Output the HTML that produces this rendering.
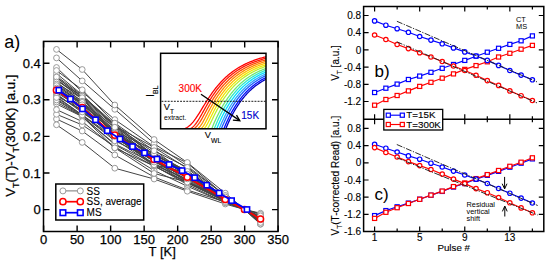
<!DOCTYPE html>
<html><head><meta charset="utf-8"><style>
html,body{margin:0;padding:0;background:#fff;width:550px;height:264px;overflow:hidden}
svg{display:block}
text{font-family:"Liberation Sans", sans-serif}
</style></head><body>
<svg width="550" height="264" viewBox="0 0 550 264">
<rect x="43.5" y="41.4" width="234.5" height="190.1" fill="none" stroke="#000" stroke-width="1.5"/>
<path d="M43.6 231.5v-6M43.6 41.4v6M77.12 231.5v-6M77.12 41.4v6M110.63 231.5v-6M110.63 41.4v6M144.15 231.5v-6M144.15 41.4v6M177.66 231.5v-6M177.66 41.4v6M211.17 231.5v-6M211.17 41.4v6M244.69 231.5v-6M244.69 41.4v6M278.2 231.5v-6M278.2 41.4v6M43.5 209.6h6M278.0 209.6h-6M43.5 173h6M278.0 173h-6M43.5 136.4h6M278.0 136.4h-6M43.5 99.8h6M278.0 99.8h-6M43.5 63.2h6M278.0 63.2h-6" stroke="#000" stroke-width="1.4" fill="none"/>
<text x="43.6" y="243.9" font-size="13" text-anchor="middle" stroke="#000" stroke-width="0.25">0</text>
<text x="77.12" y="243.9" font-size="13" text-anchor="middle" stroke="#000" stroke-width="0.25">50</text>
<text x="110.63" y="243.9" font-size="13" text-anchor="middle" stroke="#000" stroke-width="0.25">100</text>
<text x="144.15" y="243.9" font-size="13" text-anchor="middle" stroke="#000" stroke-width="0.25">150</text>
<text x="177.66" y="243.9" font-size="13" text-anchor="middle" stroke="#000" stroke-width="0.25">200</text>
<text x="211.17" y="243.9" font-size="13" text-anchor="middle" stroke="#000" stroke-width="0.25">250</text>
<text x="244.69" y="243.9" font-size="13" text-anchor="middle" stroke="#000" stroke-width="0.25">300</text>
<text x="278.2" y="243.9" font-size="13" text-anchor="middle" stroke="#000" stroke-width="0.25">350</text>
<text x="40.8" y="214.2" font-size="13" text-anchor="end" stroke="#000" stroke-width="0.25">0</text>
<text x="40.8" y="177.6" font-size="13" text-anchor="end" stroke="#000" stroke-width="0.25">0.1</text>
<text x="40.8" y="141" font-size="13" text-anchor="end" stroke="#000" stroke-width="0.25">0.2</text>
<text x="40.8" y="104.4" font-size="13" text-anchor="end" stroke="#000" stroke-width="0.25">0.3</text>
<text x="40.8" y="67.8" font-size="13" text-anchor="end" stroke="#000" stroke-width="0.25">0.4</text>
<text x="148.6" y="256" font-size="13" stroke="#000" stroke-width="0.25">T [K]</text>
<text transform="translate(15 135.7) rotate(-90)" font-size="13.15" text-anchor="middle" stroke="#000" stroke-width="0.25">V<tspan font-size="9" dy="3.8">T</tspan><tspan dy="-3.8">(T)-V</tspan><tspan font-size="9" dy="3.8">T</tspan><tspan dy="-3.8">(300K) [a.u.]</tspan></text>
<text x="4.2" y="48.1" font-size="18">a)</text>
<path d="M56.5 84.5 82.2 104.02 114.8 132.44 154.1 160.4 187.3 177.27 225.3 199.35 244.5 209.5 260.5 218.88" fill="none" stroke="#444" stroke-width="1"/><circle cx="56.5" cy="84.5" r="2.9" fill="#fff" stroke="#959595" stroke-width="0.95"/><circle cx="82.2" cy="104.02" r="2.9" fill="#fff" stroke="#959595" stroke-width="0.95"/><circle cx="114.8" cy="132.44" r="2.9" fill="#fff" stroke="#959595" stroke-width="0.95"/><circle cx="154.1" cy="160.4" r="2.9" fill="#fff" stroke="#959595" stroke-width="0.95"/><circle cx="187.3" cy="177.27" r="2.9" fill="#fff" stroke="#959595" stroke-width="0.95"/><circle cx="225.3" cy="199.35" r="2.9" fill="#fff" stroke="#959595" stroke-width="0.95"/><circle cx="244.5" cy="209.5" r="2.9" fill="#fff" stroke="#959595" stroke-width="0.95"/><circle cx="260.5" cy="218.88" r="2.9" fill="#fff" stroke="#959595" stroke-width="0.95"/><path d="M56.5 67.5 82.2 91.83 114.8 119.61 154.1 146.73 187.3 163 225.3 196.07 244.5 209.5 260.5 222.14" fill="none" stroke="#444" stroke-width="1"/><circle cx="56.5" cy="67.5" r="2.9" fill="#fff" stroke="#959595" stroke-width="0.95"/><circle cx="82.2" cy="91.83" r="2.9" fill="#fff" stroke="#959595" stroke-width="0.95"/><circle cx="114.8" cy="119.61" r="2.9" fill="#fff" stroke="#959595" stroke-width="0.95"/><circle cx="154.1" cy="146.73" r="2.9" fill="#fff" stroke="#959595" stroke-width="0.95"/><circle cx="187.3" cy="163" r="2.9" fill="#fff" stroke="#959595" stroke-width="0.95"/><circle cx="225.3" cy="196.07" r="2.9" fill="#fff" stroke="#959595" stroke-width="0.95"/><circle cx="244.5" cy="209.5" r="2.9" fill="#fff" stroke="#959595" stroke-width="0.95"/><circle cx="260.5" cy="222.14" r="2.9" fill="#fff" stroke="#959595" stroke-width="0.95"/><path d="M56.5 83.3 82.2 98.66 114.8 134.1 154.1 153.81 187.3 174.43 225.3 201.05 244.5 209.5 260.5 218.85" fill="none" stroke="#444" stroke-width="1"/><circle cx="56.5" cy="83.3" r="2.9" fill="#fff" stroke="#959595" stroke-width="0.95"/><circle cx="82.2" cy="98.66" r="2.9" fill="#fff" stroke="#959595" stroke-width="0.95"/><circle cx="114.8" cy="134.1" r="2.9" fill="#fff" stroke="#959595" stroke-width="0.95"/><circle cx="154.1" cy="153.81" r="2.9" fill="#fff" stroke="#959595" stroke-width="0.95"/><circle cx="187.3" cy="174.43" r="2.9" fill="#fff" stroke="#959595" stroke-width="0.95"/><circle cx="225.3" cy="201.05" r="2.9" fill="#fff" stroke="#959595" stroke-width="0.95"/><circle cx="244.5" cy="209.5" r="2.9" fill="#fff" stroke="#959595" stroke-width="0.95"/><circle cx="260.5" cy="218.85" r="2.9" fill="#fff" stroke="#959595" stroke-width="0.95"/><path d="M56.5 119 82.2 131 114.8 154.97 154.1 177 187.3 190 225.3 201.94 244.5 209.5 260.5 213.85" fill="none" stroke="#444" stroke-width="1"/><circle cx="56.5" cy="119" r="2.9" fill="#fff" stroke="#959595" stroke-width="0.95"/><circle cx="82.2" cy="131" r="2.9" fill="#fff" stroke="#959595" stroke-width="0.95"/><circle cx="114.8" cy="154.97" r="2.9" fill="#fff" stroke="#959595" stroke-width="0.95"/><circle cx="154.1" cy="177" r="2.9" fill="#fff" stroke="#959595" stroke-width="0.95"/><circle cx="187.3" cy="190" r="2.9" fill="#fff" stroke="#959595" stroke-width="0.95"/><circle cx="225.3" cy="201.94" r="2.9" fill="#fff" stroke="#959595" stroke-width="0.95"/><circle cx="244.5" cy="209.5" r="2.9" fill="#fff" stroke="#959595" stroke-width="0.95"/><circle cx="260.5" cy="213.85" r="2.9" fill="#fff" stroke="#959595" stroke-width="0.95"/><path d="M56.5 124.8 82.2 142.4 114.8 168.2 154.1 179 187.3 191.2 225.3 204 244.5 209.5 260.5 213.2" fill="none" stroke="#444" stroke-width="1"/><circle cx="56.5" cy="124.8" r="2.9" fill="#fff" stroke="#959595" stroke-width="0.95"/><circle cx="82.2" cy="142.4" r="2.9" fill="#fff" stroke="#959595" stroke-width="0.95"/><circle cx="114.8" cy="168.2" r="2.9" fill="#fff" stroke="#959595" stroke-width="0.95"/><circle cx="154.1" cy="179" r="2.9" fill="#fff" stroke="#959595" stroke-width="0.95"/><circle cx="187.3" cy="191.2" r="2.9" fill="#fff" stroke="#959595" stroke-width="0.95"/><circle cx="225.3" cy="204" r="2.9" fill="#fff" stroke="#959595" stroke-width="0.95"/><circle cx="244.5" cy="209.5" r="2.9" fill="#fff" stroke="#959595" stroke-width="0.95"/><circle cx="260.5" cy="213.2" r="2.9" fill="#fff" stroke="#959595" stroke-width="0.95"/><path d="M56.5 57.9 82.2 80.9 114.8 109.3 154.1 143.5 187.3 166 225.3 195.5 244.5 209.5 260.5 222.8" fill="none" stroke="#444" stroke-width="1"/><circle cx="56.5" cy="57.9" r="2.9" fill="#fff" stroke="#959595" stroke-width="0.95"/><circle cx="82.2" cy="80.9" r="2.9" fill="#fff" stroke="#959595" stroke-width="0.95"/><circle cx="114.8" cy="109.3" r="2.9" fill="#fff" stroke="#959595" stroke-width="0.95"/><circle cx="154.1" cy="143.5" r="2.9" fill="#fff" stroke="#959595" stroke-width="0.95"/><circle cx="187.3" cy="166" r="2.9" fill="#fff" stroke="#959595" stroke-width="0.95"/><circle cx="225.3" cy="195.5" r="2.9" fill="#fff" stroke="#959595" stroke-width="0.95"/><circle cx="244.5" cy="209.5" r="2.9" fill="#fff" stroke="#959595" stroke-width="0.95"/><circle cx="260.5" cy="222.8" r="2.9" fill="#fff" stroke="#959595" stroke-width="0.95"/><path d="M56.5 95 82.2 110.84 114.8 137.94 154.1 157.57 187.3 181.09 225.3 200.63 244.5 209.5 260.5 218.44" fill="none" stroke="#444" stroke-width="1"/><circle cx="56.5" cy="95" r="2.9" fill="#fff" stroke="#959595" stroke-width="0.95"/><circle cx="82.2" cy="110.84" r="2.9" fill="#fff" stroke="#959595" stroke-width="0.95"/><circle cx="114.8" cy="137.94" r="2.9" fill="#fff" stroke="#959595" stroke-width="0.95"/><circle cx="154.1" cy="157.57" r="2.9" fill="#fff" stroke="#959595" stroke-width="0.95"/><circle cx="187.3" cy="181.09" r="2.9" fill="#fff" stroke="#959595" stroke-width="0.95"/><circle cx="225.3" cy="200.63" r="2.9" fill="#fff" stroke="#959595" stroke-width="0.95"/><circle cx="244.5" cy="209.5" r="2.9" fill="#fff" stroke="#959595" stroke-width="0.95"/><circle cx="260.5" cy="218.44" r="2.9" fill="#fff" stroke="#959595" stroke-width="0.95"/><path d="M56.5 49.4 82.2 69.5 114.8 105 154.1 139.5 187.3 162.5 225.3 193.2 244.5 209.5 260.5 224.3" fill="none" stroke="#444" stroke-width="1"/><circle cx="56.5" cy="49.4" r="2.9" fill="#fff" stroke="#959595" stroke-width="0.95"/><circle cx="82.2" cy="69.5" r="2.9" fill="#fff" stroke="#959595" stroke-width="0.95"/><circle cx="114.8" cy="105" r="2.9" fill="#fff" stroke="#959595" stroke-width="0.95"/><circle cx="154.1" cy="139.5" r="2.9" fill="#fff" stroke="#959595" stroke-width="0.95"/><circle cx="187.3" cy="162.5" r="2.9" fill="#fff" stroke="#959595" stroke-width="0.95"/><circle cx="225.3" cy="193.2" r="2.9" fill="#fff" stroke="#959595" stroke-width="0.95"/><circle cx="244.5" cy="209.5" r="2.9" fill="#fff" stroke="#959595" stroke-width="0.95"/><circle cx="260.5" cy="224.3" r="2.9" fill="#fff" stroke="#959595" stroke-width="0.95"/><path d="M56.5 96 82.2 110.05 114.8 137.13 154.1 163.86 187.3 179.97 225.3 199.78 244.5 209.5 260.5 218.83" fill="none" stroke="#444" stroke-width="1"/><circle cx="56.5" cy="96" r="2.9" fill="#fff" stroke="#959595" stroke-width="0.95"/><circle cx="82.2" cy="110.05" r="2.9" fill="#fff" stroke="#959595" stroke-width="0.95"/><circle cx="114.8" cy="137.13" r="2.9" fill="#fff" stroke="#959595" stroke-width="0.95"/><circle cx="154.1" cy="163.86" r="2.9" fill="#fff" stroke="#959595" stroke-width="0.95"/><circle cx="187.3" cy="179.97" r="2.9" fill="#fff" stroke="#959595" stroke-width="0.95"/><circle cx="225.3" cy="199.78" r="2.9" fill="#fff" stroke="#959595" stroke-width="0.95"/><circle cx="244.5" cy="209.5" r="2.9" fill="#fff" stroke="#959595" stroke-width="0.95"/><circle cx="260.5" cy="218.83" r="2.9" fill="#fff" stroke="#959595" stroke-width="0.95"/><path d="M56.5 76 82.2 95.52 114.8 124.14 154.1 155.43 187.3 171.14 225.3 198.23 244.5 209.5 260.5 223.59" fill="none" stroke="#444" stroke-width="1"/><circle cx="56.5" cy="76" r="2.9" fill="#fff" stroke="#959595" stroke-width="0.95"/><circle cx="82.2" cy="95.52" r="2.9" fill="#fff" stroke="#959595" stroke-width="0.95"/><circle cx="114.8" cy="124.14" r="2.9" fill="#fff" stroke="#959595" stroke-width="0.95"/><circle cx="154.1" cy="155.43" r="2.9" fill="#fff" stroke="#959595" stroke-width="0.95"/><circle cx="187.3" cy="171.14" r="2.9" fill="#fff" stroke="#959595" stroke-width="0.95"/><circle cx="225.3" cy="198.23" r="2.9" fill="#fff" stroke="#959595" stroke-width="0.95"/><circle cx="244.5" cy="209.5" r="2.9" fill="#fff" stroke="#959595" stroke-width="0.95"/><circle cx="260.5" cy="223.59" r="2.9" fill="#fff" stroke="#959595" stroke-width="0.95"/><path d="M56.5 80 82.2 98.65 114.8 128.77 154.1 157.36 187.3 171 225.3 198.22 244.5 209.5 260.5 220.8" fill="none" stroke="#444" stroke-width="1"/><circle cx="56.5" cy="80" r="2.9" fill="#fff" stroke="#959595" stroke-width="0.95"/><circle cx="82.2" cy="98.65" r="2.9" fill="#fff" stroke="#959595" stroke-width="0.95"/><circle cx="114.8" cy="128.77" r="2.9" fill="#fff" stroke="#959595" stroke-width="0.95"/><circle cx="154.1" cy="157.36" r="2.9" fill="#fff" stroke="#959595" stroke-width="0.95"/><circle cx="187.3" cy="171" r="2.9" fill="#fff" stroke="#959595" stroke-width="0.95"/><circle cx="225.3" cy="198.22" r="2.9" fill="#fff" stroke="#959595" stroke-width="0.95"/><circle cx="244.5" cy="209.5" r="2.9" fill="#fff" stroke="#959595" stroke-width="0.95"/><circle cx="260.5" cy="220.8" r="2.9" fill="#fff" stroke="#959595" stroke-width="0.95"/><path d="M56.5 94 82.2 112.47 114.8 135.1 154.1 160.67 187.3 182.03 225.3 201.1 244.5 209.5 260.5 218.33" fill="none" stroke="#444" stroke-width="1"/><circle cx="56.5" cy="94" r="2.9" fill="#fff" stroke="#959595" stroke-width="0.95"/><circle cx="82.2" cy="112.47" r="2.9" fill="#fff" stroke="#959595" stroke-width="0.95"/><circle cx="114.8" cy="135.1" r="2.9" fill="#fff" stroke="#959595" stroke-width="0.95"/><circle cx="154.1" cy="160.67" r="2.9" fill="#fff" stroke="#959595" stroke-width="0.95"/><circle cx="187.3" cy="182.03" r="2.9" fill="#fff" stroke="#959595" stroke-width="0.95"/><circle cx="225.3" cy="201.1" r="2.9" fill="#fff" stroke="#959595" stroke-width="0.95"/><circle cx="244.5" cy="209.5" r="2.9" fill="#fff" stroke="#959595" stroke-width="0.95"/><circle cx="260.5" cy="218.33" r="2.9" fill="#fff" stroke="#959595" stroke-width="0.95"/><path d="M56.5 114.3 82.2 124.89 114.8 146.55 154.1 170.47 187.3 186.24 225.3 202.67 244.5 209.5 260.5 217.46" fill="none" stroke="#444" stroke-width="1"/><circle cx="56.5" cy="114.3" r="2.9" fill="#fff" stroke="#959595" stroke-width="0.95"/><circle cx="82.2" cy="124.89" r="2.9" fill="#fff" stroke="#959595" stroke-width="0.95"/><circle cx="114.8" cy="146.55" r="2.9" fill="#fff" stroke="#959595" stroke-width="0.95"/><circle cx="154.1" cy="170.47" r="2.9" fill="#fff" stroke="#959595" stroke-width="0.95"/><circle cx="187.3" cy="186.24" r="2.9" fill="#fff" stroke="#959595" stroke-width="0.95"/><circle cx="225.3" cy="202.67" r="2.9" fill="#fff" stroke="#959595" stroke-width="0.95"/><circle cx="244.5" cy="209.5" r="2.9" fill="#fff" stroke="#959595" stroke-width="0.95"/><circle cx="260.5" cy="217.46" r="2.9" fill="#fff" stroke="#959595" stroke-width="0.95"/><path d="M56.5 104 82.2 116.59 114.8 148.06 154.1 166.07 187.3 182.86 225.3 201.46 244.5 209.5 260.5 214.43" fill="none" stroke="#444" stroke-width="1"/><circle cx="56.5" cy="104" r="2.9" fill="#fff" stroke="#959595" stroke-width="0.95"/><circle cx="82.2" cy="116.59" r="2.9" fill="#fff" stroke="#959595" stroke-width="0.95"/><circle cx="114.8" cy="148.06" r="2.9" fill="#fff" stroke="#959595" stroke-width="0.95"/><circle cx="154.1" cy="166.07" r="2.9" fill="#fff" stroke="#959595" stroke-width="0.95"/><circle cx="187.3" cy="182.86" r="2.9" fill="#fff" stroke="#959595" stroke-width="0.95"/><circle cx="225.3" cy="201.46" r="2.9" fill="#fff" stroke="#959595" stroke-width="0.95"/><circle cx="244.5" cy="209.5" r="2.9" fill="#fff" stroke="#959595" stroke-width="0.95"/><circle cx="260.5" cy="214.43" r="2.9" fill="#fff" stroke="#959595" stroke-width="0.95"/><path d="M56.5 89 82.2 103.4 114.8 132.73 154.1 161.19 187.3 176.83 225.3 199.26 244.5 209.5 260.5 221.88" fill="none" stroke="#444" stroke-width="1"/><circle cx="56.5" cy="89" r="2.9" fill="#fff" stroke="#959595" stroke-width="0.95"/><circle cx="82.2" cy="103.4" r="2.9" fill="#fff" stroke="#959595" stroke-width="0.95"/><circle cx="114.8" cy="132.73" r="2.9" fill="#fff" stroke="#959595" stroke-width="0.95"/><circle cx="154.1" cy="161.19" r="2.9" fill="#fff" stroke="#959595" stroke-width="0.95"/><circle cx="187.3" cy="176.83" r="2.9" fill="#fff" stroke="#959595" stroke-width="0.95"/><circle cx="225.3" cy="199.26" r="2.9" fill="#fff" stroke="#959595" stroke-width="0.95"/><circle cx="244.5" cy="209.5" r="2.9" fill="#fff" stroke="#959595" stroke-width="0.95"/><circle cx="260.5" cy="221.88" r="2.9" fill="#fff" stroke="#959595" stroke-width="0.95"/><path d="M56.5 79 82.2 98.74 114.8 131.52 154.1 149.54 187.3 175.81 225.3 197.53 244.5 209.5 260.5 218.94" fill="none" stroke="#444" stroke-width="1"/><circle cx="56.5" cy="79" r="2.9" fill="#fff" stroke="#959595" stroke-width="0.95"/><circle cx="82.2" cy="98.74" r="2.9" fill="#fff" stroke="#959595" stroke-width="0.95"/><circle cx="114.8" cy="131.52" r="2.9" fill="#fff" stroke="#959595" stroke-width="0.95"/><circle cx="154.1" cy="149.54" r="2.9" fill="#fff" stroke="#959595" stroke-width="0.95"/><circle cx="187.3" cy="175.81" r="2.9" fill="#fff" stroke="#959595" stroke-width="0.95"/><circle cx="225.3" cy="197.53" r="2.9" fill="#fff" stroke="#959595" stroke-width="0.95"/><circle cx="244.5" cy="209.5" r="2.9" fill="#fff" stroke="#959595" stroke-width="0.95"/><circle cx="260.5" cy="218.94" r="2.9" fill="#fff" stroke="#959595" stroke-width="0.95"/><path d="M56.5 91.5 82.2 105.75 114.8 136.62 154.1 160.67 187.3 181.72 225.3 198.34 244.5 209.5 260.5 218.82" fill="none" stroke="#444" stroke-width="1"/><circle cx="56.5" cy="91.5" r="2.9" fill="#fff" stroke="#959595" stroke-width="0.95"/><circle cx="82.2" cy="105.75" r="2.9" fill="#fff" stroke="#959595" stroke-width="0.95"/><circle cx="114.8" cy="136.62" r="2.9" fill="#fff" stroke="#959595" stroke-width="0.95"/><circle cx="154.1" cy="160.67" r="2.9" fill="#fff" stroke="#959595" stroke-width="0.95"/><circle cx="187.3" cy="181.72" r="2.9" fill="#fff" stroke="#959595" stroke-width="0.95"/><circle cx="225.3" cy="198.34" r="2.9" fill="#fff" stroke="#959595" stroke-width="0.95"/><circle cx="244.5" cy="209.5" r="2.9" fill="#fff" stroke="#959595" stroke-width="0.95"/><circle cx="260.5" cy="218.82" r="2.9" fill="#fff" stroke="#959595" stroke-width="0.95"/><path d="M56.5 73.5 82.2 94.83 114.8 125.74 154.1 147.45 187.3 168.41 225.3 197.86 244.5 209.5 260.5 224" fill="none" stroke="#444" stroke-width="1"/><circle cx="56.5" cy="73.5" r="2.9" fill="#fff" stroke="#959595" stroke-width="0.95"/><circle cx="82.2" cy="94.83" r="2.9" fill="#fff" stroke="#959595" stroke-width="0.95"/><circle cx="114.8" cy="125.74" r="2.9" fill="#fff" stroke="#959595" stroke-width="0.95"/><circle cx="154.1" cy="147.45" r="2.9" fill="#fff" stroke="#959595" stroke-width="0.95"/><circle cx="187.3" cy="168.41" r="2.9" fill="#fff" stroke="#959595" stroke-width="0.95"/><circle cx="225.3" cy="197.86" r="2.9" fill="#fff" stroke="#959595" stroke-width="0.95"/><circle cx="244.5" cy="209.5" r="2.9" fill="#fff" stroke="#959595" stroke-width="0.95"/><circle cx="260.5" cy="224" r="2.9" fill="#fff" stroke="#959595" stroke-width="0.95"/><path d="M56.5 77.6 82.2 96.54 114.8 125.7 154.1 152.64 187.3 171.59 225.3 197.71 244.5 209.5 260.5 221.1" fill="none" stroke="#444" stroke-width="1"/><circle cx="56.5" cy="77.6" r="2.9" fill="#fff" stroke="#959595" stroke-width="0.95"/><circle cx="82.2" cy="96.54" r="2.9" fill="#fff" stroke="#959595" stroke-width="0.95"/><circle cx="114.8" cy="125.7" r="2.9" fill="#fff" stroke="#959595" stroke-width="0.95"/><circle cx="154.1" cy="152.64" r="2.9" fill="#fff" stroke="#959595" stroke-width="0.95"/><circle cx="187.3" cy="171.59" r="2.9" fill="#fff" stroke="#959595" stroke-width="0.95"/><circle cx="225.3" cy="197.71" r="2.9" fill="#fff" stroke="#959595" stroke-width="0.95"/><circle cx="244.5" cy="209.5" r="2.9" fill="#fff" stroke="#959595" stroke-width="0.95"/><circle cx="260.5" cy="221.1" r="2.9" fill="#fff" stroke="#959595" stroke-width="0.95"/><path d="M56.5 91 82.2 107.86 114.8 137.23 154.1 161.35 187.3 177.31 225.3 200.44 244.5 209.5 260.5 219.1" fill="none" stroke="#444" stroke-width="1"/><circle cx="56.5" cy="91" r="2.9" fill="#fff" stroke="#959595" stroke-width="0.95"/><circle cx="82.2" cy="107.86" r="2.9" fill="#fff" stroke="#959595" stroke-width="0.95"/><circle cx="114.8" cy="137.23" r="2.9" fill="#fff" stroke="#959595" stroke-width="0.95"/><circle cx="154.1" cy="161.35" r="2.9" fill="#fff" stroke="#959595" stroke-width="0.95"/><circle cx="187.3" cy="177.31" r="2.9" fill="#fff" stroke="#959595" stroke-width="0.95"/><circle cx="225.3" cy="200.44" r="2.9" fill="#fff" stroke="#959595" stroke-width="0.95"/><circle cx="244.5" cy="209.5" r="2.9" fill="#fff" stroke="#959595" stroke-width="0.95"/><circle cx="260.5" cy="219.1" r="2.9" fill="#fff" stroke="#959595" stroke-width="0.95"/><path d="M56.5 80.5 82.2 96.05 114.8 125.77 154.1 156.3 187.3 175.05 225.3 199.34 244.5 209.5 260.5 221.35" fill="none" stroke="#444" stroke-width="1"/><circle cx="56.5" cy="80.5" r="2.9" fill="#fff" stroke="#959595" stroke-width="0.95"/><circle cx="82.2" cy="96.05" r="2.9" fill="#fff" stroke="#959595" stroke-width="0.95"/><circle cx="114.8" cy="125.77" r="2.9" fill="#fff" stroke="#959595" stroke-width="0.95"/><circle cx="154.1" cy="156.3" r="2.9" fill="#fff" stroke="#959595" stroke-width="0.95"/><circle cx="187.3" cy="175.05" r="2.9" fill="#fff" stroke="#959595" stroke-width="0.95"/><circle cx="225.3" cy="199.34" r="2.9" fill="#fff" stroke="#959595" stroke-width="0.95"/><circle cx="244.5" cy="209.5" r="2.9" fill="#fff" stroke="#959595" stroke-width="0.95"/><circle cx="260.5" cy="221.35" r="2.9" fill="#fff" stroke="#959595" stroke-width="0.95"/><path d="M56.5 102 82.2 116.48 114.8 144.73 154.1 166.21 187.3 182.08 225.3 199.91 244.5 209.5 260.5 217.33" fill="none" stroke="#444" stroke-width="1"/><circle cx="56.5" cy="102" r="2.9" fill="#fff" stroke="#959595" stroke-width="0.95"/><circle cx="82.2" cy="116.48" r="2.9" fill="#fff" stroke="#959595" stroke-width="0.95"/><circle cx="114.8" cy="144.73" r="2.9" fill="#fff" stroke="#959595" stroke-width="0.95"/><circle cx="154.1" cy="166.21" r="2.9" fill="#fff" stroke="#959595" stroke-width="0.95"/><circle cx="187.3" cy="182.08" r="2.9" fill="#fff" stroke="#959595" stroke-width="0.95"/><circle cx="225.3" cy="199.91" r="2.9" fill="#fff" stroke="#959595" stroke-width="0.95"/><circle cx="244.5" cy="209.5" r="2.9" fill="#fff" stroke="#959595" stroke-width="0.95"/><circle cx="260.5" cy="217.33" r="2.9" fill="#fff" stroke="#959595" stroke-width="0.95"/><path d="M56.5 77 82.2 97.7 114.8 126.76 154.1 154.91 187.3 170.78 225.3 197.29 244.5 209.5 260.5 220.24" fill="none" stroke="#444" stroke-width="1"/><circle cx="56.5" cy="77" r="2.9" fill="#fff" stroke="#959595" stroke-width="0.95"/><circle cx="82.2" cy="97.7" r="2.9" fill="#fff" stroke="#959595" stroke-width="0.95"/><circle cx="114.8" cy="126.76" r="2.9" fill="#fff" stroke="#959595" stroke-width="0.95"/><circle cx="154.1" cy="154.91" r="2.9" fill="#fff" stroke="#959595" stroke-width="0.95"/><circle cx="187.3" cy="170.78" r="2.9" fill="#fff" stroke="#959595" stroke-width="0.95"/><circle cx="225.3" cy="197.29" r="2.9" fill="#fff" stroke="#959595" stroke-width="0.95"/><circle cx="244.5" cy="209.5" r="2.9" fill="#fff" stroke="#959595" stroke-width="0.95"/><circle cx="260.5" cy="220.24" r="2.9" fill="#fff" stroke="#959595" stroke-width="0.95"/><path d="M56.5 96.5 82.2 114.95 114.8 137.56 154.1 161.18 187.3 177.67 225.3 199.06 244.5 209.5 260.5 219.19" fill="none" stroke="#444" stroke-width="1"/><circle cx="56.5" cy="96.5" r="2.9" fill="#fff" stroke="#959595" stroke-width="0.95"/><circle cx="82.2" cy="114.95" r="2.9" fill="#fff" stroke="#959595" stroke-width="0.95"/><circle cx="114.8" cy="137.56" r="2.9" fill="#fff" stroke="#959595" stroke-width="0.95"/><circle cx="154.1" cy="161.18" r="2.9" fill="#fff" stroke="#959595" stroke-width="0.95"/><circle cx="187.3" cy="177.67" r="2.9" fill="#fff" stroke="#959595" stroke-width="0.95"/><circle cx="225.3" cy="199.06" r="2.9" fill="#fff" stroke="#959595" stroke-width="0.95"/><circle cx="244.5" cy="209.5" r="2.9" fill="#fff" stroke="#959595" stroke-width="0.95"/><circle cx="260.5" cy="219.19" r="2.9" fill="#fff" stroke="#959595" stroke-width="0.95"/><path d="M56.5 82 82.2 101.49 114.8 130.16 154.1 158.76 187.3 172.24 225.3 198.09 244.5 209.5 260.5 220.88" fill="none" stroke="#444" stroke-width="1"/><circle cx="56.5" cy="82" r="2.9" fill="#fff" stroke="#959595" stroke-width="0.95"/><circle cx="82.2" cy="101.49" r="2.9" fill="#fff" stroke="#959595" stroke-width="0.95"/><circle cx="114.8" cy="130.16" r="2.9" fill="#fff" stroke="#959595" stroke-width="0.95"/><circle cx="154.1" cy="158.76" r="2.9" fill="#fff" stroke="#959595" stroke-width="0.95"/><circle cx="187.3" cy="172.24" r="2.9" fill="#fff" stroke="#959595" stroke-width="0.95"/><circle cx="225.3" cy="198.09" r="2.9" fill="#fff" stroke="#959595" stroke-width="0.95"/><circle cx="244.5" cy="209.5" r="2.9" fill="#fff" stroke="#959595" stroke-width="0.95"/><circle cx="260.5" cy="220.88" r="2.9" fill="#fff" stroke="#959595" stroke-width="0.95"/><path d="M56.5 99 82.2 115.45 114.8 139.14 154.1 165.76 187.3 184.49 225.3 202.68 244.5 209.5 260.5 220.01" fill="none" stroke="#444" stroke-width="1"/><circle cx="56.5" cy="99" r="2.9" fill="#fff" stroke="#959595" stroke-width="0.95"/><circle cx="82.2" cy="115.45" r="2.9" fill="#fff" stroke="#959595" stroke-width="0.95"/><circle cx="114.8" cy="139.14" r="2.9" fill="#fff" stroke="#959595" stroke-width="0.95"/><circle cx="154.1" cy="165.76" r="2.9" fill="#fff" stroke="#959595" stroke-width="0.95"/><circle cx="187.3" cy="184.49" r="2.9" fill="#fff" stroke="#959595" stroke-width="0.95"/><circle cx="225.3" cy="202.68" r="2.9" fill="#fff" stroke="#959595" stroke-width="0.95"/><circle cx="244.5" cy="209.5" r="2.9" fill="#fff" stroke="#959595" stroke-width="0.95"/><circle cx="260.5" cy="220.01" r="2.9" fill="#fff" stroke="#959595" stroke-width="0.95"/><path d="M56.5 88.5 82.2 107.97 114.8 130.8 154.1 161.77 187.3 177.51 225.3 200.29 244.5 209.5 260.5 219.38" fill="none" stroke="#444" stroke-width="1"/><circle cx="56.5" cy="88.5" r="2.9" fill="#fff" stroke="#959595" stroke-width="0.95"/><circle cx="82.2" cy="107.97" r="2.9" fill="#fff" stroke="#959595" stroke-width="0.95"/><circle cx="114.8" cy="130.8" r="2.9" fill="#fff" stroke="#959595" stroke-width="0.95"/><circle cx="154.1" cy="161.77" r="2.9" fill="#fff" stroke="#959595" stroke-width="0.95"/><circle cx="187.3" cy="177.51" r="2.9" fill="#fff" stroke="#959595" stroke-width="0.95"/><circle cx="225.3" cy="200.29" r="2.9" fill="#fff" stroke="#959595" stroke-width="0.95"/><circle cx="244.5" cy="209.5" r="2.9" fill="#fff" stroke="#959595" stroke-width="0.95"/><circle cx="260.5" cy="219.38" r="2.9" fill="#fff" stroke="#959595" stroke-width="0.95"/><path d="M56.5 100 82.2 116.2 114.8 144 154.1 163.37 187.3 182.94 225.3 200.52 244.5 209.5 260.5 216.71" fill="none" stroke="#444" stroke-width="1"/><circle cx="56.5" cy="100" r="2.9" fill="#fff" stroke="#959595" stroke-width="0.95"/><circle cx="82.2" cy="116.2" r="2.9" fill="#fff" stroke="#959595" stroke-width="0.95"/><circle cx="114.8" cy="144" r="2.9" fill="#fff" stroke="#959595" stroke-width="0.95"/><circle cx="154.1" cy="163.37" r="2.9" fill="#fff" stroke="#959595" stroke-width="0.95"/><circle cx="187.3" cy="182.94" r="2.9" fill="#fff" stroke="#959595" stroke-width="0.95"/><circle cx="225.3" cy="200.52" r="2.9" fill="#fff" stroke="#959595" stroke-width="0.95"/><circle cx="244.5" cy="209.5" r="2.9" fill="#fff" stroke="#959595" stroke-width="0.95"/><circle cx="260.5" cy="216.71" r="2.9" fill="#fff" stroke="#959595" stroke-width="0.95"/><path d="M56.5 97.5 82.2 114.95 114.8 140.85 154.1 159.89 187.3 177.67 225.3 200.52 244.5 209.5 260.5 217.22" fill="none" stroke="#444" stroke-width="1"/><circle cx="56.5" cy="97.5" r="2.9" fill="#fff" stroke="#959595" stroke-width="0.95"/><circle cx="82.2" cy="114.95" r="2.9" fill="#fff" stroke="#959595" stroke-width="0.95"/><circle cx="114.8" cy="140.85" r="2.9" fill="#fff" stroke="#959595" stroke-width="0.95"/><circle cx="154.1" cy="159.89" r="2.9" fill="#fff" stroke="#959595" stroke-width="0.95"/><circle cx="187.3" cy="177.67" r="2.9" fill="#fff" stroke="#959595" stroke-width="0.95"/><circle cx="225.3" cy="200.52" r="2.9" fill="#fff" stroke="#959595" stroke-width="0.95"/><circle cx="244.5" cy="209.5" r="2.9" fill="#fff" stroke="#959595" stroke-width="0.95"/><circle cx="260.5" cy="217.22" r="2.9" fill="#fff" stroke="#959595" stroke-width="0.95"/><path d="M56.5 87 82.2 102.85 114.8 131.33 154.1 156.56 187.3 177.81 225.3 197.98 244.5 209.5 260.5 219.31" fill="none" stroke="#444" stroke-width="1"/><circle cx="56.5" cy="87" r="2.9" fill="#fff" stroke="#959595" stroke-width="0.95"/><circle cx="82.2" cy="102.85" r="2.9" fill="#fff" stroke="#959595" stroke-width="0.95"/><circle cx="114.8" cy="131.33" r="2.9" fill="#fff" stroke="#959595" stroke-width="0.95"/><circle cx="154.1" cy="156.56" r="2.9" fill="#fff" stroke="#959595" stroke-width="0.95"/><circle cx="187.3" cy="177.81" r="2.9" fill="#fff" stroke="#959595" stroke-width="0.95"/><circle cx="225.3" cy="197.98" r="2.9" fill="#fff" stroke="#959595" stroke-width="0.95"/><circle cx="244.5" cy="209.5" r="2.9" fill="#fff" stroke="#959595" stroke-width="0.95"/><circle cx="260.5" cy="219.31" r="2.9" fill="#fff" stroke="#959595" stroke-width="0.95"/><path d="M56.5 84 82.2 101.35 114.8 135.21 154.1 153.36 187.3 173.9 225.3 199.18 244.5 209.5 260.5 220.67" fill="none" stroke="#444" stroke-width="1"/><circle cx="56.5" cy="84" r="2.9" fill="#fff" stroke="#959595" stroke-width="0.95"/><circle cx="82.2" cy="101.35" r="2.9" fill="#fff" stroke="#959595" stroke-width="0.95"/><circle cx="114.8" cy="135.21" r="2.9" fill="#fff" stroke="#959595" stroke-width="0.95"/><circle cx="154.1" cy="153.36" r="2.9" fill="#fff" stroke="#959595" stroke-width="0.95"/><circle cx="187.3" cy="173.9" r="2.9" fill="#fff" stroke="#959595" stroke-width="0.95"/><circle cx="225.3" cy="199.18" r="2.9" fill="#fff" stroke="#959595" stroke-width="0.95"/><circle cx="244.5" cy="209.5" r="2.9" fill="#fff" stroke="#959595" stroke-width="0.95"/><circle cx="260.5" cy="220.67" r="2.9" fill="#fff" stroke="#959595" stroke-width="0.95"/><path d="M56.5 109.6 82.2 121.51 114.8 147.81 154.1 173.44 187.3 182.1 225.3 201.58 244.5 209.5 260.5 215.84" fill="none" stroke="#444" stroke-width="1"/><circle cx="56.5" cy="109.6" r="2.9" fill="#fff" stroke="#959595" stroke-width="0.95"/><circle cx="82.2" cy="121.51" r="2.9" fill="#fff" stroke="#959595" stroke-width="0.95"/><circle cx="114.8" cy="147.81" r="2.9" fill="#fff" stroke="#959595" stroke-width="0.95"/><circle cx="154.1" cy="173.44" r="2.9" fill="#fff" stroke="#959595" stroke-width="0.95"/><circle cx="187.3" cy="182.1" r="2.9" fill="#fff" stroke="#959595" stroke-width="0.95"/><circle cx="225.3" cy="201.58" r="2.9" fill="#fff" stroke="#959595" stroke-width="0.95"/><circle cx="244.5" cy="209.5" r="2.9" fill="#fff" stroke="#959595" stroke-width="0.95"/><circle cx="260.5" cy="215.84" r="2.9" fill="#fff" stroke="#959595" stroke-width="0.95"/><path d="M56.5 92.5 82.2 108.81 114.8 136.36 154.1 165.3 187.3 178.9 225.3 199.29 244.5 209.5 260.5 218.86" fill="none" stroke="#444" stroke-width="1"/><circle cx="56.5" cy="92.5" r="2.9" fill="#fff" stroke="#959595" stroke-width="0.95"/><circle cx="82.2" cy="108.81" r="2.9" fill="#fff" stroke="#959595" stroke-width="0.95"/><circle cx="114.8" cy="136.36" r="2.9" fill="#fff" stroke="#959595" stroke-width="0.95"/><circle cx="154.1" cy="165.3" r="2.9" fill="#fff" stroke="#959595" stroke-width="0.95"/><circle cx="187.3" cy="178.9" r="2.9" fill="#fff" stroke="#959595" stroke-width="0.95"/><circle cx="225.3" cy="199.29" r="2.9" fill="#fff" stroke="#959595" stroke-width="0.95"/><circle cx="244.5" cy="209.5" r="2.9" fill="#fff" stroke="#959595" stroke-width="0.95"/><circle cx="260.5" cy="218.86" r="2.9" fill="#fff" stroke="#959595" stroke-width="0.95"/><path d="M56.5 70.5 82.2 89.82 114.8 123.14 154.1 150.77 187.3 167.39 225.3 195.46 244.5 209.5 260.5 221.42" fill="none" stroke="#444" stroke-width="1"/><circle cx="56.5" cy="70.5" r="2.9" fill="#fff" stroke="#959595" stroke-width="0.95"/><circle cx="82.2" cy="89.82" r="2.9" fill="#fff" stroke="#959595" stroke-width="0.95"/><circle cx="114.8" cy="123.14" r="2.9" fill="#fff" stroke="#959595" stroke-width="0.95"/><circle cx="154.1" cy="150.77" r="2.9" fill="#fff" stroke="#959595" stroke-width="0.95"/><circle cx="187.3" cy="167.39" r="2.9" fill="#fff" stroke="#959595" stroke-width="0.95"/><circle cx="225.3" cy="195.46" r="2.9" fill="#fff" stroke="#959595" stroke-width="0.95"/><circle cx="244.5" cy="209.5" r="2.9" fill="#fff" stroke="#959595" stroke-width="0.95"/><circle cx="260.5" cy="221.42" r="2.9" fill="#fff" stroke="#959595" stroke-width="0.95"/><path d="M56.5 90 82.2 111.93 114.8 134.97 154.1 164.81 187.3 172.74 225.3 197.01 244.5 209.5 260.5 220.33" fill="none" stroke="#444" stroke-width="1"/><circle cx="56.5" cy="90" r="2.9" fill="#fff" stroke="#959595" stroke-width="0.95"/><circle cx="82.2" cy="111.93" r="2.9" fill="#fff" stroke="#959595" stroke-width="0.95"/><circle cx="114.8" cy="134.97" r="2.9" fill="#fff" stroke="#959595" stroke-width="0.95"/><circle cx="154.1" cy="164.81" r="2.9" fill="#fff" stroke="#959595" stroke-width="0.95"/><circle cx="187.3" cy="172.74" r="2.9" fill="#fff" stroke="#959595" stroke-width="0.95"/><circle cx="225.3" cy="197.01" r="2.9" fill="#fff" stroke="#959595" stroke-width="0.95"/><circle cx="244.5" cy="209.5" r="2.9" fill="#fff" stroke="#959595" stroke-width="0.95"/><circle cx="260.5" cy="220.33" r="2.9" fill="#fff" stroke="#959595" stroke-width="0.95"/><path d="M56.5 85.6 82.2 102.35 114.8 127.23 154.1 159.11 187.3 171.45 225.3 199.86 244.5 209.5 260.5 222.5" fill="none" stroke="#444" stroke-width="1"/><circle cx="56.5" cy="85.6" r="2.9" fill="#fff" stroke="#959595" stroke-width="0.95"/><circle cx="82.2" cy="102.35" r="2.9" fill="#fff" stroke="#959595" stroke-width="0.95"/><circle cx="114.8" cy="127.23" r="2.9" fill="#fff" stroke="#959595" stroke-width="0.95"/><circle cx="154.1" cy="159.11" r="2.9" fill="#fff" stroke="#959595" stroke-width="0.95"/><circle cx="187.3" cy="171.45" r="2.9" fill="#fff" stroke="#959595" stroke-width="0.95"/><circle cx="225.3" cy="199.86" r="2.9" fill="#fff" stroke="#959595" stroke-width="0.95"/><circle cx="244.5" cy="209.5" r="2.9" fill="#fff" stroke="#959595" stroke-width="0.95"/><circle cx="260.5" cy="222.5" r="2.9" fill="#fff" stroke="#959595" stroke-width="0.95"/><path d="M56.5 88 82.2 104.78 114.8 133.11 154.1 162.01 187.3 174.24 225.3 199.25 244.5 209.5 260.5 219.76" fill="none" stroke="#444" stroke-width="1"/><circle cx="56.5" cy="88" r="2.9" fill="#fff" stroke="#959595" stroke-width="0.95"/><circle cx="82.2" cy="104.78" r="2.9" fill="#fff" stroke="#959595" stroke-width="0.95"/><circle cx="114.8" cy="133.11" r="2.9" fill="#fff" stroke="#959595" stroke-width="0.95"/><circle cx="154.1" cy="162.01" r="2.9" fill="#fff" stroke="#959595" stroke-width="0.95"/><circle cx="187.3" cy="174.24" r="2.9" fill="#fff" stroke="#959595" stroke-width="0.95"/><circle cx="225.3" cy="199.25" r="2.9" fill="#fff" stroke="#959595" stroke-width="0.95"/><circle cx="244.5" cy="209.5" r="2.9" fill="#fff" stroke="#959595" stroke-width="0.95"/><circle cx="260.5" cy="219.76" r="2.9" fill="#fff" stroke="#959595" stroke-width="0.95"/>
<path d="M56.5 90.2 82.2 107.7 114.8 135.2 154.1 159.5 187.3 177.2 225.3 199.5 244.5 209.5 260.5 219" fill="none" stroke="#f00" stroke-width="1.7"/>
<circle cx="56.5" cy="90.2" r="3.1" fill="#fff" stroke="#f00" stroke-width="1.5"/>
<circle cx="82.2" cy="107.7" r="3.1" fill="#fff" stroke="#f00" stroke-width="1.5"/>
<circle cx="114.8" cy="135.2" r="3.1" fill="#fff" stroke="#f00" stroke-width="1.5"/>
<circle cx="154.1" cy="159.5" r="3.1" fill="#fff" stroke="#f00" stroke-width="1.5"/>
<circle cx="187.3" cy="177.2" r="3.1" fill="#fff" stroke="#f00" stroke-width="1.5"/>
<circle cx="225.3" cy="199.5" r="3.1" fill="#fff" stroke="#f00" stroke-width="1.5"/>
<circle cx="244.5" cy="209.5" r="3.1" fill="#fff" stroke="#f00" stroke-width="1.5"/>
<circle cx="260.5" cy="219" r="3.1" fill="#fff" stroke="#f00" stroke-width="1.5"/>
<path d="M58.8 90.2 70.4 99 82.5 108.9 95.5 119.8 107.3 130.7 120 139 132.5 146.6 144.5 152.9 157 159.1 169.1 164.5 182.1 170.6 194.7 177.7 206.8 185.2 219.1 193 231.6 200.6 247 209.5" fill="none" stroke="#00f" stroke-width="1.7"/>
<rect x="56.2" y="87.6" width="5.2" height="5.2" fill="#fff" stroke="#00f" stroke-width="1.6"/>
<rect x="67.8" y="96.4" width="5.2" height="5.2" fill="#fff" stroke="#00f" stroke-width="1.6"/>
<rect x="79.9" y="106.3" width="5.2" height="5.2" fill="#fff" stroke="#00f" stroke-width="1.6"/>
<rect x="92.9" y="117.2" width="5.2" height="5.2" fill="#fff" stroke="#00f" stroke-width="1.6"/>
<rect x="104.7" y="128.1" width="5.2" height="5.2" fill="#fff" stroke="#00f" stroke-width="1.6"/>
<rect x="117.4" y="136.4" width="5.2" height="5.2" fill="#fff" stroke="#00f" stroke-width="1.6"/>
<rect x="129.9" y="144" width="5.2" height="5.2" fill="#fff" stroke="#00f" stroke-width="1.6"/>
<rect x="141.9" y="150.3" width="5.2" height="5.2" fill="#fff" stroke="#00f" stroke-width="1.6"/>
<rect x="154.4" y="156.5" width="5.2" height="5.2" fill="#fff" stroke="#00f" stroke-width="1.6"/>
<rect x="166.5" y="161.9" width="5.2" height="5.2" fill="#fff" stroke="#00f" stroke-width="1.6"/>
<rect x="179.5" y="168" width="5.2" height="5.2" fill="#fff" stroke="#00f" stroke-width="1.6"/>
<rect x="192.1" y="175.1" width="5.2" height="5.2" fill="#fff" stroke="#00f" stroke-width="1.6"/>
<rect x="204.2" y="182.6" width="5.2" height="5.2" fill="#fff" stroke="#00f" stroke-width="1.6"/>
<rect x="216.5" y="190.4" width="5.2" height="5.2" fill="#fff" stroke="#00f" stroke-width="1.6"/>
<rect x="229" y="198" width="5.2" height="5.2" fill="#fff" stroke="#00f" stroke-width="1.6"/>
<rect x="244.4" y="206.9" width="5.2" height="5.2" fill="#fff" stroke="#00f" stroke-width="1.6"/>
<rect x="55.8" y="184" width="87.9" height="36" fill="#fff" stroke="#000" stroke-width="1.5"/>
<path d="M62.9 190.9H80.3" stroke="#666" stroke-width="0.9"/><circle cx="62.9" cy="190.9" r="3" fill="#fff" stroke="#959595" stroke-width="0.95"/><circle cx="80.3" cy="190.9" r="3" fill="#fff" stroke="#959595" stroke-width="0.95"/>
<path d="M62.9 201.7H80.3" stroke="#f00" stroke-width="1.7"/><circle cx="62.9" cy="201.7" r="3.1" fill="#fff" stroke="#f00" stroke-width="1.5"/><circle cx="80.3" cy="201.7" r="3.1" fill="#fff" stroke="#f00" stroke-width="1.5"/>
<path d="M62.9 212.7H80.3" stroke="#00f" stroke-width="1.7"/><rect x="60.1" y="209.9" width="5.6" height="5.6" fill="#fff" stroke="#00f" stroke-width="1.6"/><rect x="77.5" y="209.9" width="5.6" height="5.6" fill="#fff" stroke="#00f" stroke-width="1.6"/>
<text x="86.6" y="194.5" font-size="10" stroke="#000" stroke-width="0.12">SS</text>
<text x="86.6" y="205.3" font-size="10" stroke="#000" stroke-width="0.12">SS, average</text>
<text x="86.6" y="216.3" font-size="10" stroke="#000" stroke-width="0.12">MS</text>
<rect x="160.6" y="53.3" width="105.4" height="75.5" fill="#fff" stroke="none"/>
<clipPath id="ic"><rect x="160.6" y="53.3" width="105.4" height="75.5"/></clipPath>
<g clip-path="url(#ic)"><path d="M175 131 175.75 130.93 176.5 130.84 177.25 130.75 178 130.64 178.75 130.52 179.5 130.37 180.25 130.21 181 130.03 181.75 129.83 182.5 129.6 183.25 129.34 184 129.05 184.75 128.72 185.5 128.35 186.25 127.94 187 127.49 187.75 127 188.5 126.45 189.25 125.85 190 125.2 190.75 124.49 191.5 123.73 192.25 122.92 193 122.05 193.75 121.13 194.5 120.16 195.25 119.15 196 118.09 196.75 116.99 197.5 115.87 198.25 114.71 199 113.53 199.75 112.33 200.5 111.12 201.25 109.89 202 108.66 202.75 107.43 203.5 106.2 204.25 104.98 205 103.76 205.75 102.55 206.5 101.36 207.25 100.18 208 99.02 208.75 97.87 209.5 96.74 210.25 95.63 211 94.55 211.75 93.48 212.5 92.43 213.25 91.41 214 90.4 214.75 89.42 215.5 88.46 216.25 87.52 217 86.6 217.75 85.7 218.5 84.82 219.25 83.96 220 83.12 220.75 82.3 221.5 81.5 222.25 80.72 223 79.96 223.75 79.21 224.5 78.49 225.25 77.78 226 77.09 226.75 76.41 227.5 75.75 228.25 75.11 229 74.48 229.75 73.87 230.5 73.27 231.25 72.68 232 72.11 232.75 71.56 233.5 71.02 234.25 70.49 235 69.97 235.75 69.47 236.5 68.98 237.25 68.5 238 68.03 238.75 67.57 239.5 67.13 240.25 66.69 241 66.27 241.75 65.86 242.5 65.45 243.25 65.06 244 64.68 244.75 64.3 245.5 63.94 246.25 63.58 247 63.23 247.75 62.89 248.5 62.56 249.25 62.24 250 61.92 250.75 61.61 251.5 61.31 252.25 61.02 253 60.74 253.75 60.46 254.5 60.19 255.25 59.92 256 59.66 256.75 59.41 257.5 59.16 258.25 58.92 259 58.69 259.75 58.46 260.5 58.24 261.25 58.02 262 57.81 262.75 57.6 263.5 57.4 264.25 57.2 265 57.01 265.75 56.82 266.5 56.63 267.25 56.46" fill="none" stroke="#ff0000" stroke-width="1.3"/><path d="M184 130.92 184.75 130.8 185.5 130.66 186.25 130.49 187 130.29 187.75 130.06 188.5 129.78 189.25 129.45 190 129.07 190.75 128.63 191.5 128.13 192.25 127.55 193 126.89 193.75 126.16 194.5 125.35 195.25 124.46 196 123.5 196.75 122.46 197.5 121.35 198.25 120.19 199 118.97 199.75 117.71 200.5 116.42 201.25 115.1 202 113.76 202.75 112.42 203.5 111.07 204.25 109.72 205 108.38 205.75 107.05 206.5 105.74 207.25 104.44 208 103.17 208.75 101.92 209.5 100.69 210.25 99.48 211 98.3 211.75 97.14 212.5 96.01 213.25 94.9 214 93.82 214.75 92.76 215.5 91.72 216.25 90.72 217 89.73 217.75 88.77 218.5 87.83 219.25 86.91 220 86.02 220.75 85.15 221.5 84.3 222.25 83.47 223 82.66 223.75 81.87 224.5 81.1 225.25 80.35 226 79.61 226.75 78.9 227.5 78.2 228.25 77.52 229 76.86 229.75 76.21 230.5 75.58 231.25 74.96 232 74.36 232.75 73.77 233.5 73.2 234.25 72.65 235 72.1 235.75 71.57 236.5 71.05 237.25 70.55 238 70.06 238.75 69.58 239.5 69.11 240.25 68.65 241 68.21 241.75 67.77 242.5 67.35 243.25 66.94 244 66.53 244.75 66.14 245.5 65.76 246.25 65.38 247 65.02 247.75 64.66 248.5 64.31 249.25 63.98 250 63.65 250.75 63.32 251.5 63.01 252.25 62.7 253 62.4 253.75 62.11 254.5 61.83 255.25 61.55 256 61.28 256.75 61.02 257.5 60.76 258.25 60.51 259 60.26 259.75 60.03 260.5 59.79 261.25 59.57 262 59.34 262.75 59.13 263.5 58.92 264.25 58.71 265 58.51 265.75 58.32 266.5 58.13 267.25 57.94" fill="none" stroke="#ff1800" stroke-width="1.3"/><path d="M187.75 130.98 188.5 130.86 189.25 130.71 190 130.53 190.75 130.31 191.5 130.04 192.25 129.72 193 129.35 193.75 128.9 194.5 128.38 195.25 127.78 196 127.09 196.75 126.31 197.5 125.44 198.25 124.48 199 123.44 199.75 122.32 200.5 121.13 201.25 119.88 202 118.58 202.75 117.25 203.5 115.9 204.25 114.52 205 113.14 205.75 111.76 206.5 110.38 207.25 109.01 208 107.66 208.75 106.33 209.5 105.02 210.25 103.73 211 102.47 211.75 101.23 212.5 100.02 213.25 98.83 214 97.67 214.75 96.54 215.5 95.43 216.25 94.35 217 93.3 217.75 92.27 218.5 91.27 219.25 90.29 220 89.33 220.75 88.4 221.5 87.49 222.25 86.6 223 85.74 223.75 84.89 224.5 84.07 225.25 83.27 226 82.48 226.75 81.72 227.5 80.98 228.25 80.25 229 79.54 229.75 78.85 230.5 78.18 231.25 77.53 232 76.89 232.75 76.26 233.5 75.65 234.25 75.06 235 74.48 235.75 73.92 236.5 73.37 237.25 72.83 238 72.31 238.75 71.8 239.5 71.3 240.25 70.82 241 70.35 241.75 69.89 242.5 69.44 243.25 69 244 68.57 244.75 68.15 245.5 67.75 246.25 67.35 247 66.97 247.75 66.59 248.5 66.22 249.25 65.86 250 65.51 250.75 65.17 251.5 64.84 252.25 64.52 253 64.2 253.75 63.9 254.5 63.6 255.25 63.3 256 63.02 256.75 62.74 257.5 62.47 258.25 62.2 259 61.95 259.75 61.69 260.5 61.45 261.25 61.21 262 60.98 262.75 60.75 263.5 60.53 264.25 60.31 265 60.1 265.75 59.9 266.5 59.7 267.25 59.5" fill="none" stroke="#ff5000" stroke-width="1.3"/><path d="M193 130.88 193.75 130.71 194.5 130.49 195.25 130.21 196 129.86 196.75 129.43 197.5 128.92 198.25 128.3 199 127.57 199.75 126.73 200.5 125.78 201.25 124.72 202 123.56 202.75 122.32 203.5 121.01 204.25 119.65 205 118.25 205.75 116.82 206.5 115.38 207.25 113.94 208 112.5 208.75 111.08 209.5 109.68 210.25 108.3 211 106.94 211.75 105.61 212.5 104.3 213.25 103.03 214 101.78 214.75 100.56 215.5 99.37 216.25 98.21 217 97.08 217.75 95.97 218.5 94.89 219.25 93.84 220 92.82 220.75 91.82 221.5 90.84 222.25 89.89 223 88.97 223.75 88.07 224.5 87.19 225.25 86.33 226 85.49 226.75 84.68 227.5 83.88 228.25 83.11 229 82.35 229.75 81.61 230.5 80.9 231.25 80.2 232 79.51 232.75 78.85 233.5 78.2 234.25 77.57 235 76.95 235.75 76.35 236.5 75.77 237.25 75.2 238 74.64 238.75 74.1 239.5 73.57 240.25 73.06 241 72.55 241.75 72.06 242.5 71.59 243.25 71.12 244 70.67 244.75 70.23 245.5 69.8 246.25 69.38 247 68.97 247.75 68.57 248.5 68.18 249.25 67.8 250 67.43 250.75 67.07 251.5 66.72 252.25 66.38 253 66.04 253.75 65.72 254.5 65.4 255.25 65.09 256 64.79 256.75 64.49 257.5 64.21 258.25 63.93 259 63.66 259.75 63.39 260.5 63.13 261.25 62.88 262 62.64 262.75 62.4 263.5 62.16 264.25 61.93 265 61.71 265.75 61.5 266.5 61.29 267.25 61.08" fill="none" stroke="#ff8c00" stroke-width="1.3"/><path d="M196.75 130.96 197.5 130.78 198.25 130.53 199 130.2 199.75 129.78 200.5 129.25 201.25 128.6 202 127.81 202.75 126.88 203.5 125.82 204.25 124.64 205 123.35 205.75 121.98 206.5 120.56 207.25 119.09 208 117.61 208.75 116.11 209.5 114.63 210.25 113.16 211 111.7 211.75 110.27 212.5 108.87 213.25 107.5 214 106.16 214.75 104.85 215.5 103.57 216.25 102.32 217 101.1 217.75 99.91 218.5 98.75 219.25 97.63 220 96.52 220.75 95.45 221.5 94.41 222.25 93.39 223 92.39 223.75 91.42 224.5 90.48 225.25 89.56 226 88.67 226.75 87.79 227.5 86.94 228.25 86.11 229 85.3 229.75 84.52 230.5 83.75 231.25 83 232 82.27 232.75 81.56 233.5 80.87 234.25 80.2 235 79.54 235.75 78.9 236.5 78.27 237.25 77.66 238 77.07 238.75 76.49 239.5 75.93 240.25 75.38 241 74.85 241.75 74.33 242.5 73.82 243.25 73.32 244 72.84 244.75 72.37 245.5 71.91 246.25 71.47 247 71.03 247.75 70.61 248.5 70.2 249.25 69.79 250 69.4 250.75 69.02 251.5 68.65 252.25 68.28 253 67.93 253.75 67.59 254.5 67.25 255.25 66.92 256 66.6 256.75 66.29 257.5 65.99 258.25 65.69 259 65.41 259.75 65.13 260.5 64.85 261.25 64.59 262 64.33 262.75 64.07 263.5 63.83 264.25 63.59 265 63.35 265.75 63.13 266.5 62.9 267.25 62.69" fill="none" stroke="#ffc000" stroke-width="1.3"/><path d="M200.5 130.89 201.25 130.64 202 130.3 202.75 129.86 203.5 129.28 204.25 128.55 205 127.66 205.75 126.61 206.5 125.43 207.25 124.12 208 122.72 208.75 121.26 209.5 119.76 210.25 118.24 211 116.72 211.75 115.21 212.5 113.72 213.25 112.25 214 110.81 214.75 109.4 215.5 108.03 216.25 106.69 217 105.37 217.75 104.1 218.5 102.85 219.25 101.63 220 100.45 220.75 99.3 221.5 98.17 222.25 97.08 223 96.01 223.75 94.97 224.5 93.96 225.25 92.97 226 92.01 226.75 91.07 227.5 90.16 228.25 89.27 229 88.4 229.75 87.56 230.5 86.74 231.25 85.94 232 85.16 232.75 84.4 233.5 83.66 234.25 82.94 235 82.23 235.75 81.55 236.5 80.88 237.25 80.23 238 79.6 238.75 78.98 239.5 78.38 240.25 77.8 241 77.23 241.75 76.67 242.5 76.13 243.25 75.6 244 75.09 244.75 74.59 245.5 74.1 246.25 73.63 247 73.16 247.75 72.71 248.5 72.27 249.25 71.85 250 71.43 250.75 71.02 251.5 70.63 252.25 70.24 253 69.87 253.75 69.5 254.5 69.14 255.25 68.8 256 68.46 256.75 68.13 257.5 67.81 258.25 67.5 259 67.19 259.75 66.9 260.5 66.61 261.25 66.32 262 66.05 262.75 65.78 263.5 65.52 264.25 65.27 265 65.02 265.75 64.78 266.5 64.55 267.25 64.32" fill="none" stroke="#f0e800" stroke-width="1.3"/><path d="M205 130.76 205.75 130.34 206.5 129.74 207.25 128.92 208 127.88 208.75 126.63 209.5 125.22 210.25 123.71 211 122.13 211.75 120.53 212.5 118.94 213.25 117.36 214 115.8 214.75 114.28 215.5 112.79 216.25 111.34 217 109.92 217.75 108.54 218.5 107.2 219.25 105.89 220 104.61 220.75 103.37 221.5 102.16 222.25 100.98 223 99.83 223.75 98.71 224.5 97.62 225.25 96.56 226 95.53 226.75 94.52 227.5 93.54 228.25 92.59 229 91.66 229.75 90.75 230.5 89.87 231.25 89.01 232 88.18 232.75 87.36 233.5 86.57 234.25 85.8 235 85.04 235.75 84.31 236.5 83.6 237.25 82.9 238 82.23 238.75 81.57 239.5 80.92 240.25 80.3 241 79.69 241.75 79.1 242.5 78.52 243.25 77.96 244 77.41 244.75 76.88 245.5 76.36 246.25 75.85 247 75.36 247.75 74.88 248.5 74.41 249.25 73.96 250 73.51 250.75 73.08 251.5 72.66 252.25 72.25 253 71.85 253.75 71.46 254.5 71.08 255.25 70.72 256 70.36 256.75 70.01 257.5 69.67 258.25 69.34 259 69.01 259.75 68.7 260.5 68.39 261.25 68.09 262 67.8 262.75 67.52 263.5 67.25 264.25 66.98 265 66.72 265.75 66.46 266.5 66.21 267.25 65.97" fill="none" stroke="#b8f030" stroke-width="1.3"/><path d="M211 130.59 211.75 128.77 212.5 126.91 213.25 125.1 214 123.33 214.75 121.61 215.5 119.94 216.25 118.31 217 116.72 217.75 115.18 218.5 113.68 219.25 112.21 220 110.79 220.75 109.4 221.5 108.05 222.25 106.73 223 105.45 223.75 104.21 224.5 102.99 225.25 101.81 226 100.66 226.75 99.54 227.5 98.45 228.25 97.39 229 96.36 229.75 95.35 230.5 94.37 231.25 93.42 232 92.49 232.75 91.58 233.5 90.7 234.25 89.85 235 89.01 235.75 88.2 236.5 87.41 237.25 86.64 238 85.89 238.75 85.16 239.5 84.45 240.25 83.75 241 83.08 241.75 82.43 242.5 81.79 243.25 81.17 244 80.56 244.75 79.97 245.5 79.4 246.25 78.84 247 78.29 247.75 77.76 248.5 77.25 249.25 76.75 250 76.26 250.75 75.78 251.5 75.32 252.25 74.87 253 74.43 253.75 74 254.5 73.59 255.25 73.18 256 72.79 256.75 72.4 257.5 72.03 258.25 71.66 259 71.31 259.75 70.96 260.5 70.63 261.25 70.3 262 69.98 262.75 69.67 263.5 69.37 264.25 69.08 265 68.79 265.75 68.51 266.5 68.24 267.25 67.98" fill="none" stroke="#70e870" stroke-width="1.3"/><path d="M214 129.35 214.75 127.49 215.5 125.67 216.25 123.91 217 122.18 217.75 120.51 218.5 118.88 219.25 117.29 220 115.75 220.75 114.25 221.5 112.79 222.25 111.36 223 109.98 223.75 108.63 224.5 107.32 225.25 106.04 226 104.8 226.75 103.59 227.5 102.41 228.25 101.26 229 100.15 229.75 99.06 230.5 98 231.25 96.98 232 95.98 232.75 95 233.5 94.05 234.25 93.13 235 92.23 235.75 91.36 236.5 90.51 237.25 89.68 238 88.87 238.75 88.09 239.5 87.32 240.25 86.58 241 85.86 241.75 85.15 242.5 84.47 243.25 83.8 244 83.15 244.75 82.52 245.5 81.91 246.25 81.31 247 80.73 247.75 80.16 248.5 79.61 249.25 79.07 250 78.55 250.75 78.04 251.5 77.55 252.25 77.06 253 76.59 253.75 76.14 254.5 75.69 255.25 75.26 256 74.84 256.75 74.43 257.5 74.03 258.25 73.65 259 73.27 259.75 72.9 260.5 72.54 261.25 72.19 262 71.86 262.75 71.53 263.5 71.21 264.25 70.89 265 70.59 265.75 70.29 266.5 70 267.25 69.72" fill="none" stroke="#30e8c8" stroke-width="1.3"/><path d="M216.25 129.91 217 128.06 217.75 126.24 218.5 124.47 219.25 122.75 220 121.08 220.75 119.45 221.5 117.86 222.25 116.32 223 114.81 223.75 113.35 224.5 111.93 225.25 110.55 226 109.2 226.75 107.89 227.5 106.62 228.25 105.38 229 104.17 229.75 103 230.5 101.86 231.25 100.75 232 99.67 232.75 98.62 233.5 97.59 234.25 96.6 235 95.63 235.75 94.69 236.5 93.77 237.25 92.88 238 92.01 238.75 91.17 239.5 90.35 240.25 89.55 241 88.77 241.75 88.01 242.5 87.28 243.25 86.56 244 85.86 244.75 85.18 245.5 84.52 246.25 83.88 247 83.26 247.75 82.65 248.5 82.06 249.25 81.48 250 80.92 250.75 80.38 251.5 79.85 252.25 79.33 253 78.83 253.75 78.35 254.5 77.87 255.25 77.41 256 76.96 256.75 76.52 257.5 76.1 258.25 75.68 259 75.28 259.75 74.89 260.5 74.51 261.25 74.14 262 73.78 262.75 73.42 263.5 73.08 264.25 72.75 265 72.43 265.75 72.11 266.5 71.81 267.25 71.51" fill="none" stroke="#00e0ff" stroke-width="1.3"/><path d="M218.5 130.44 219.25 128.63 220 126.81 220.75 125.04 221.5 123.31 222.25 121.64 223 120.01 223.75 118.42 224.5 116.88 225.25 115.38 226 113.92 226.75 112.5 227.5 111.12 228.25 109.77 229 108.47 229.75 107.2 230.5 105.96 231.25 104.76 232 103.59 232.75 102.45 233.5 101.35 234.25 100.27 235 99.23 235.75 98.21 236.5 97.22 237.25 96.26 238 95.32 238.75 94.41 239.5 93.52 240.25 92.66 241 91.83 241.75 91.01 242.5 90.22 243.25 89.45 244 88.7 244.75 87.97 245.5 87.26 246.25 86.57 247 85.9 247.75 85.25 248.5 84.61 249.25 84 250 83.39 250.75 82.81 251.5 82.24 252.25 81.69 253 81.15 253.75 80.63 254.5 80.12 255.25 79.63 256 79.15 256.75 78.68 257.5 78.23 258.25 77.78 259 77.35 259.75 76.93 260.5 76.53 261.25 76.13 262 75.75 262.75 75.37 263.5 75.01 264.25 74.65 265 74.31 265.75 73.97 266.5 73.65 267.25 73.33" fill="none" stroke="#30a8ff" stroke-width="1.3"/><path d="M220.75 130.22 221.5 128.4 222.25 126.6 223 124.85 223.75 123.14 224.5 121.48 225.25 119.87 226 118.3 226.75 116.78 227.5 115.3 228.25 113.86 229 112.46 229.75 111.1 230.5 109.77 231.25 108.49 232 107.24 232.75 106.02 233.5 104.84 234.25 103.69 235 102.57 235.75 101.48 236.5 100.42 237.25 99.39 238 98.4 238.75 97.42 239.5 96.48 240.25 95.56 241 94.67 241.75 93.8 242.5 92.95 243.25 92.13 244 91.34 244.75 90.56 245.5 89.81 246.25 89.07 247 88.36 247.75 87.67 248.5 86.99 249.25 86.34 250 85.7 250.75 85.08 251.5 84.48 252.25 83.89 253 83.32 253.75 82.77 254.5 82.23 255.25 81.71 256 81.2 256.75 80.7 257.5 80.22 258.25 79.75 259 79.3 259.75 78.86 260.5 78.43 261.25 78.01 262 77.6 262.75 77.21 263.5 76.82 264.25 76.45 265 76.08 265.75 75.73 266.5 75.39 267.25 75.05" fill="none" stroke="#1860ff" stroke-width="1.3"/><path d="M223 130.7 223.75 128.95 224.5 127.15 225.25 125.39 226 123.69 226.75 122.03 227.5 120.42 228.25 118.85 229 117.33 229.75 115.85 230.5 114.41 231.25 113.01 232 111.65 232.75 110.33 233.5 109.05 234.25 107.8 235 106.59 235.75 105.41 236.5 104.27 237.25 103.15 238 102.07 238.75 101.02 239.5 100 240.25 99.01 241 98.04 241.75 97.1 242.5 96.19 243.25 95.3 244 94.44 244.75 93.61 245.5 92.79 246.25 92 247 91.23 247.75 90.49 248.5 89.76 249.25 89.05 250 88.37 250.75 87.7 251.5 87.05 252.25 86.42 253 85.81 253.75 85.22 254.5 84.64 255.25 84.08 256 83.53 256.75 83 257.5 82.48 258.25 81.98 259 81.5 259.75 81.02 260.5 80.56 261.25 80.11 262 79.68 262.75 79.26 263.5 78.85 264.25 78.45 265 78.06 265.75 77.68 266.5 77.31 267.25 76.96" fill="none" stroke="#0010ff" stroke-width="1.3"/><path d="M225.25 129.96 226 128.16 226.75 126.39 227.5 124.67 228.25 123 229 121.38 229.75 119.8 230.5 118.27 231.25 116.78 232 115.33 232.75 113.92 233.5 112.56 234.25 111.23 235 109.94 235.75 108.69 236.5 107.47 237.25 106.29 238 105.14 238.75 104.03 239.5 102.94 240.25 101.89 241 100.87 241.75 99.87 242.5 98.91 243.25 97.97 244 97.06 244.75 96.17 245.5 95.31 246.25 94.47 247 93.66 247.75 92.87 248.5 92.1 249.25 91.36 250 90.64 250.75 89.93 251.5 89.25 252.25 88.59 253 87.94 253.75 87.31 254.5 86.7 255.25 86.11 256 85.54 256.75 84.98 257.5 84.44 258.25 83.91 259 83.4 259.75 82.9 260.5 82.42 261.25 81.95 262 81.49 262.75 81.05 263.5 80.62 264.25 80.2 265 79.79 265.75 79.4 266.5 79.01 267.25 78.64" fill="none" stroke="#0000c0" stroke-width="1.3"/></g>
<path d="M161.5 101.3H265.5" stroke="#000" stroke-width="0.9" stroke-dasharray="1.9 1.2"/>
<rect x="160.6" y="53.3" width="105.4" height="75.5" fill="none" stroke="#000" stroke-width="1.5"/>
<text x="178.6" y="92" font-size="10" fill="#f00" stroke="#f00" stroke-width="0.12">300K</text>
<text x="241.3" y="118.6" font-size="10" fill="#00c" stroke="#00c" stroke-width="0.12">15K</text>
<path d="M201 94.3L239.4 120.4" stroke="#000" stroke-width="1.3" fill="none"/><path d="M232.9 120.1L239.8 120.7L236.5 115.2" stroke="#000" stroke-width="1.3" fill="none"/>
<text x="163.8" y="110" font-size="9.3" stroke="#000" stroke-width="0.12">V<tspan font-size="6.5" dy="3.6">T</tspan></text>
<text x="164" y="120.3" font-size="6.8">extract.</text>
<text x="204.8" y="138" font-size="9.3" stroke="#000" stroke-width="0.12">V<tspan font-size="6.8" dy="5">WL</tspan></text>
<text transform="translate(153.8 91.3) rotate(-90)" font-size="10.5" text-anchor="middle" stroke="#000" stroke-width="0.12">I<tspan font-size="7" dy="4.4">BL</tspan></text>
<path d="M363.6 6.5H543.8V231.6H363.6Z M363.6 119.2H543.8" fill="none" stroke="#000" stroke-width="1.5"/>
<path d="M374.6 6.5v5M374.6 119.2v-5M374.6 119.2v5M374.6 231.6v-5M397.14 6.5v3M397.14 119.2v-3M397.14 119.2v3M397.14 231.6v-3M419.68 6.5v5M419.68 119.2v-5M419.68 119.2v5M419.68 231.6v-5M442.22 6.5v3M442.22 119.2v-3M442.22 119.2v3M442.22 231.6v-3M464.76 6.5v5M464.76 119.2v-5M464.76 119.2v5M464.76 231.6v-5M487.3 6.5v3M487.3 119.2v-3M487.3 119.2v3M487.3 231.6v-3M509.84 6.5v5M509.84 119.2v-5M509.84 119.2v5M509.84 231.6v-5M532.38 6.5v3M532.38 119.2v-3M532.38 119.2v3M532.38 231.6v-3M363.6 15.5h5M543.8 15.5h-5M363.6 128.4h5M543.8 128.4h-5M363.6 32.7h5M543.8 32.7h-5M363.6 145.6h5M543.8 145.6h-5M363.6 49.9h5M543.8 49.9h-5M363.6 162.8h5M543.8 162.8h-5M363.6 67.1h5M543.8 67.1h-5M363.6 180h5M543.8 180h-5M363.6 84.3h5M543.8 84.3h-5M363.6 197.2h5M543.8 197.2h-5M363.6 101.5h5M543.8 101.5h-5M363.6 214.4h5M543.8 214.4h-5" stroke="#000" stroke-width="1.2" fill="none"/>
<text x="361.2" y="19.1" font-size="10" text-anchor="end" stroke="#000" stroke-width="0.12">0.8</text>
<text x="361.2" y="132" font-size="10" text-anchor="end" stroke="#000" stroke-width="0.12">0.8</text>
<text x="361.2" y="36.3" font-size="10" text-anchor="end" stroke="#000" stroke-width="0.12">0.4</text>
<text x="361.2" y="149.2" font-size="10" text-anchor="end" stroke="#000" stroke-width="0.12">0.4</text>
<text x="361.2" y="53.5" font-size="10" text-anchor="end" stroke="#000" stroke-width="0.12">0</text>
<text x="361.2" y="166.4" font-size="10" text-anchor="end" stroke="#000" stroke-width="0.12">0</text>
<text x="361.2" y="70.7" font-size="10" text-anchor="end" stroke="#000" stroke-width="0.12">-0.4</text>
<text x="361.2" y="183.6" font-size="10" text-anchor="end" stroke="#000" stroke-width="0.12">-0.4</text>
<text x="361.2" y="87.9" font-size="10" text-anchor="end" stroke="#000" stroke-width="0.12">-0.8</text>
<text x="361.2" y="200.8" font-size="10" text-anchor="end" stroke="#000" stroke-width="0.12">-0.8</text>
<text x="361.2" y="105.1" font-size="10" text-anchor="end" stroke="#000" stroke-width="0.12">-1.2</text>
<text x="361.2" y="218" font-size="10" text-anchor="end" stroke="#000" stroke-width="0.12">-1.2</text>
<text x="361.2" y="235.2" font-size="10" text-anchor="end" stroke="#000" stroke-width="0.12">-1.6</text>
<text x="374.6" y="241.4" font-size="10" text-anchor="middle" stroke="#000" stroke-width="0.12">1</text>
<text x="419.68" y="241.4" font-size="10" text-anchor="middle" stroke="#000" stroke-width="0.12">5</text>
<text x="464.76" y="241.4" font-size="10" text-anchor="middle" stroke="#000" stroke-width="0.12">9</text>
<text x="509.84" y="241.4" font-size="10" text-anchor="middle" stroke="#000" stroke-width="0.12">13</text>
<text x="437.4" y="250.8" font-size="9.8" stroke="#000" stroke-width="0.12">Pulse #</text>
<text transform="translate(338.6 63) rotate(-90)" font-size="10" text-anchor="middle" stroke="#000" stroke-width="0.12">V<tspan font-size="6.5" dy="3">T</tspan><tspan dy="-3"> [a.u.]</tspan></text>
<text transform="translate(338.6 175.6) rotate(-90)" font-size="10" text-anchor="middle" stroke="#000" stroke-width="0.12">V<tspan font-size="6.5" dy="3">T</tspan><tspan dy="-3">(T-corrected Read) [a.u.]</tspan></text>
<text x="374.6" y="76.6" font-size="17">b)</text>
<text x="374.6" y="199.5" font-size="17">c)</text>
<text x="516" y="21.6" font-size="7.4" fill="#000">CT</text>
<text x="516" y="28.9" font-size="7.4" fill="#000">MS</text>
<path d="M374.6 92.5 385.87 88.2 397.14 84.1 408.41 79.5 419.68 76.1 430.95 72.3 442.22 68.3 453.49 64.5 464.76 60.4 476.03 56.2 487.3 52.2 498.57 48.3 509.84 44.4 521.11 40.8 532.38 35.9" fill="none" stroke="#00f" stroke-width="1.15"/><rect x="372.55" y="90.45" width="4.1" height="4.1" fill="#fff" stroke="#00f" stroke-width="1.2"/><rect x="383.82" y="86.15" width="4.1" height="4.1" fill="#fff" stroke="#00f" stroke-width="1.2"/><rect x="395.09" y="82.05" width="4.1" height="4.1" fill="#fff" stroke="#00f" stroke-width="1.2"/><rect x="406.36" y="77.45" width="4.1" height="4.1" fill="#fff" stroke="#00f" stroke-width="1.2"/><rect x="417.63" y="74.05" width="4.1" height="4.1" fill="#fff" stroke="#00f" stroke-width="1.2"/><rect x="428.9" y="70.25" width="4.1" height="4.1" fill="#fff" stroke="#00f" stroke-width="1.2"/><rect x="440.17" y="66.25" width="4.1" height="4.1" fill="#fff" stroke="#00f" stroke-width="1.2"/><rect x="451.44" y="62.45" width="4.1" height="4.1" fill="#fff" stroke="#00f" stroke-width="1.2"/><rect x="462.71" y="58.35" width="4.1" height="4.1" fill="#fff" stroke="#00f" stroke-width="1.2"/><rect x="473.98" y="54.15" width="4.1" height="4.1" fill="#fff" stroke="#00f" stroke-width="1.2"/><rect x="485.25" y="50.15" width="4.1" height="4.1" fill="#fff" stroke="#00f" stroke-width="1.2"/><rect x="496.52" y="46.25" width="4.1" height="4.1" fill="#fff" stroke="#00f" stroke-width="1.2"/><rect x="507.79" y="42.35" width="4.1" height="4.1" fill="#fff" stroke="#00f" stroke-width="1.2"/><rect x="519.06" y="38.75" width="4.1" height="4.1" fill="#fff" stroke="#00f" stroke-width="1.2"/><rect x="530.33" y="33.85" width="4.1" height="4.1" fill="#fff" stroke="#00f" stroke-width="1.2"/>
<path d="M374.6 105.2 385.87 99.5 397.14 95.5 408.41 90.9 419.68 86.4 430.95 82.3 442.22 78.2 453.49 73.9 464.76 69.4 476.03 65.6 487.3 61.8 498.57 57 509.84 53.3 521.11 49.2 532.38 45.4" fill="none" stroke="#f00" stroke-width="1.15"/><rect x="372.55" y="103.15" width="4.1" height="4.1" fill="#fff" stroke="#f00" stroke-width="1.2"/><rect x="383.82" y="97.45" width="4.1" height="4.1" fill="#fff" stroke="#f00" stroke-width="1.2"/><rect x="395.09" y="93.45" width="4.1" height="4.1" fill="#fff" stroke="#f00" stroke-width="1.2"/><rect x="406.36" y="88.85" width="4.1" height="4.1" fill="#fff" stroke="#f00" stroke-width="1.2"/><rect x="417.63" y="84.35" width="4.1" height="4.1" fill="#fff" stroke="#f00" stroke-width="1.2"/><rect x="428.9" y="80.25" width="4.1" height="4.1" fill="#fff" stroke="#f00" stroke-width="1.2"/><rect x="440.17" y="76.15" width="4.1" height="4.1" fill="#fff" stroke="#f00" stroke-width="1.2"/><rect x="451.44" y="71.85" width="4.1" height="4.1" fill="#fff" stroke="#f00" stroke-width="1.2"/><rect x="462.71" y="67.35" width="4.1" height="4.1" fill="#fff" stroke="#f00" stroke-width="1.2"/><rect x="473.98" y="63.55" width="4.1" height="4.1" fill="#fff" stroke="#f00" stroke-width="1.2"/><rect x="485.25" y="59.75" width="4.1" height="4.1" fill="#fff" stroke="#f00" stroke-width="1.2"/><rect x="496.52" y="54.95" width="4.1" height="4.1" fill="#fff" stroke="#f00" stroke-width="1.2"/><rect x="507.79" y="51.25" width="4.1" height="4.1" fill="#fff" stroke="#f00" stroke-width="1.2"/><rect x="519.06" y="47.15" width="4.1" height="4.1" fill="#fff" stroke="#f00" stroke-width="1.2"/><rect x="530.33" y="43.35" width="4.1" height="4.1" fill="#fff" stroke="#f00" stroke-width="1.2"/>
<path d="M374.6 20.9 385.87 25.2 397.14 28.7 408.41 32.3 419.68 36.5 430.95 40.1 442.22 43.8 453.49 47.9 464.76 51.9 476.03 56 487.3 60.4 498.57 65.4 509.84 70.5 521.11 75.1 532.38 79.8" fill="none" stroke="#00f" stroke-width="1.15"/><circle cx="374.6" cy="20.9" r="2.2" fill="#fff" stroke="#00f" stroke-width="1.2"/><circle cx="385.87" cy="25.2" r="2.2" fill="#fff" stroke="#00f" stroke-width="1.2"/><circle cx="397.14" cy="28.7" r="2.2" fill="#fff" stroke="#00f" stroke-width="1.2"/><circle cx="408.41" cy="32.3" r="2.2" fill="#fff" stroke="#00f" stroke-width="1.2"/><circle cx="419.68" cy="36.5" r="2.2" fill="#fff" stroke="#00f" stroke-width="1.2"/><circle cx="430.95" cy="40.1" r="2.2" fill="#fff" stroke="#00f" stroke-width="1.2"/><circle cx="442.22" cy="43.8" r="2.2" fill="#fff" stroke="#00f" stroke-width="1.2"/><circle cx="453.49" cy="47.9" r="2.2" fill="#fff" stroke="#00f" stroke-width="1.2"/><circle cx="464.76" cy="51.9" r="2.2" fill="#fff" stroke="#00f" stroke-width="1.2"/><circle cx="476.03" cy="56" r="2.2" fill="#fff" stroke="#00f" stroke-width="1.2"/><circle cx="487.3" cy="60.4" r="2.2" fill="#fff" stroke="#00f" stroke-width="1.2"/><circle cx="498.57" cy="65.4" r="2.2" fill="#fff" stroke="#00f" stroke-width="1.2"/><circle cx="509.84" cy="70.5" r="2.2" fill="#fff" stroke="#00f" stroke-width="1.2"/><circle cx="521.11" cy="75.1" r="2.2" fill="#fff" stroke="#00f" stroke-width="1.2"/><circle cx="532.38" cy="79.8" r="2.2" fill="#fff" stroke="#00f" stroke-width="1.2"/>
<path d="M374.6 35 385.87 39.5 397.14 44.5 408.41 48.6 419.68 52.7 430.95 57 442.22 61.5 453.49 66 464.76 70.5 476.03 75.3 487.3 80.6 498.57 85.4 509.84 90.9 521.11 95.7 532.38 100.5" fill="none" stroke="#f00" stroke-width="1.15"/><circle cx="374.6" cy="35" r="2.2" fill="#fff" stroke="#f00" stroke-width="1.2"/><circle cx="385.87" cy="39.5" r="2.2" fill="#fff" stroke="#f00" stroke-width="1.2"/><circle cx="397.14" cy="44.5" r="2.2" fill="#fff" stroke="#f00" stroke-width="1.2"/><circle cx="408.41" cy="48.6" r="2.2" fill="#fff" stroke="#f00" stroke-width="1.2"/><circle cx="419.68" cy="52.7" r="2.2" fill="#fff" stroke="#f00" stroke-width="1.2"/><circle cx="430.95" cy="57" r="2.2" fill="#fff" stroke="#f00" stroke-width="1.2"/><circle cx="442.22" cy="61.5" r="2.2" fill="#fff" stroke="#f00" stroke-width="1.2"/><circle cx="453.49" cy="66" r="2.2" fill="#fff" stroke="#f00" stroke-width="1.2"/><circle cx="464.76" cy="70.5" r="2.2" fill="#fff" stroke="#f00" stroke-width="1.2"/><circle cx="476.03" cy="75.3" r="2.2" fill="#fff" stroke="#f00" stroke-width="1.2"/><circle cx="487.3" cy="80.6" r="2.2" fill="#fff" stroke="#f00" stroke-width="1.2"/><circle cx="498.57" cy="85.4" r="2.2" fill="#fff" stroke="#f00" stroke-width="1.2"/><circle cx="509.84" cy="90.9" r="2.2" fill="#fff" stroke="#f00" stroke-width="1.2"/><circle cx="521.11" cy="95.7" r="2.2" fill="#fff" stroke="#f00" stroke-width="1.2"/><circle cx="532.38" cy="100.5" r="2.2" fill="#fff" stroke="#f00" stroke-width="1.2"/>
<path d="M374.6 215.6 385.87 210.6 397.14 206.8 408.41 203.1 419.68 199.2 430.95 195.2 442.22 191.4 453.49 187.05 464.76 183.55 476.03 179.25 487.3 175.35 498.57 171.35 509.84 167.2 521.11 163.2 532.38 158.9" fill="none" stroke="#00f" stroke-width="1.15"/><rect x="372.55" y="213.55" width="4.1" height="4.1" fill="#fff" stroke="#00f" stroke-width="1.2"/><rect x="383.82" y="208.55" width="4.1" height="4.1" fill="#fff" stroke="#00f" stroke-width="1.2"/><rect x="395.09" y="204.75" width="4.1" height="4.1" fill="#fff" stroke="#00f" stroke-width="1.2"/><rect x="406.36" y="201.05" width="4.1" height="4.1" fill="#fff" stroke="#00f" stroke-width="1.2"/><rect x="417.63" y="197.15" width="4.1" height="4.1" fill="#fff" stroke="#00f" stroke-width="1.2"/><rect x="428.9" y="193.15" width="4.1" height="4.1" fill="#fff" stroke="#00f" stroke-width="1.2"/><rect x="440.17" y="189.35" width="4.1" height="4.1" fill="#fff" stroke="#00f" stroke-width="1.2"/><rect x="451.44" y="185" width="4.1" height="4.1" fill="#fff" stroke="#00f" stroke-width="1.2"/><rect x="462.71" y="181.5" width="4.1" height="4.1" fill="#fff" stroke="#00f" stroke-width="1.2"/><rect x="473.98" y="177.2" width="4.1" height="4.1" fill="#fff" stroke="#00f" stroke-width="1.2"/><rect x="485.25" y="173.3" width="4.1" height="4.1" fill="#fff" stroke="#00f" stroke-width="1.2"/><rect x="496.52" y="169.3" width="4.1" height="4.1" fill="#fff" stroke="#00f" stroke-width="1.2"/><rect x="507.79" y="165.15" width="4.1" height="4.1" fill="#fff" stroke="#00f" stroke-width="1.2"/><rect x="519.06" y="161.15" width="4.1" height="4.1" fill="#fff" stroke="#00f" stroke-width="1.2"/><rect x="530.33" y="156.85" width="4.1" height="4.1" fill="#fff" stroke="#00f" stroke-width="1.2"/>
<path d="M374.6 218.4 385.87 212.3 397.14 207.7 408.41 203.5 419.68 199.3 430.95 195.1 442.22 191.1 453.49 186.6 464.76 183 476.03 178.6 487.3 174.6 498.57 170.5 509.84 166.3 521.11 162.2 532.38 157.8" fill="none" stroke="#f00" stroke-width="1.15"/><rect x="372.55" y="216.35" width="4.1" height="4.1" fill="#fff" stroke="#f00" stroke-width="1.2"/><rect x="383.82" y="210.25" width="4.1" height="4.1" fill="#fff" stroke="#f00" stroke-width="1.2"/><rect x="395.09" y="205.65" width="4.1" height="4.1" fill="#fff" stroke="#f00" stroke-width="1.2"/><rect x="406.36" y="201.45" width="4.1" height="4.1" fill="#fff" stroke="#f00" stroke-width="1.2"/><rect x="417.63" y="197.25" width="4.1" height="4.1" fill="#fff" stroke="#f00" stroke-width="1.2"/><rect x="428.9" y="193.05" width="4.1" height="4.1" fill="#fff" stroke="#f00" stroke-width="1.2"/><rect x="440.17" y="189.05" width="4.1" height="4.1" fill="#fff" stroke="#f00" stroke-width="1.2"/><rect x="451.44" y="184.55" width="4.1" height="4.1" fill="#fff" stroke="#f00" stroke-width="1.2"/><rect x="462.71" y="180.95" width="4.1" height="4.1" fill="#fff" stroke="#f00" stroke-width="1.2"/><rect x="473.98" y="176.55" width="4.1" height="4.1" fill="#fff" stroke="#f00" stroke-width="1.2"/><rect x="485.25" y="172.55" width="4.1" height="4.1" fill="#fff" stroke="#f00" stroke-width="1.2"/><rect x="496.52" y="168.45" width="4.1" height="4.1" fill="#fff" stroke="#f00" stroke-width="1.2"/><rect x="507.79" y="164.25" width="4.1" height="4.1" fill="#fff" stroke="#f00" stroke-width="1.2"/><rect x="519.06" y="160.15" width="4.1" height="4.1" fill="#fff" stroke="#f00" stroke-width="1.2"/><rect x="530.33" y="155.75" width="4.1" height="4.1" fill="#fff" stroke="#f00" stroke-width="1.2"/>
<path d="M374.6 144.3 385.87 148.2 397.14 152 408.41 155.9 419.68 159.2 430.95 163.2 442.22 167 453.49 171.1 464.76 175 476.03 179.1 487.3 183.5 498.57 188.5 509.84 193.2 521.11 198.1 532.38 203" fill="none" stroke="#00f" stroke-width="1.15"/><circle cx="374.6" cy="144.3" r="2.2" fill="#fff" stroke="#00f" stroke-width="1.2"/><circle cx="385.87" cy="148.2" r="2.2" fill="#fff" stroke="#00f" stroke-width="1.2"/><circle cx="397.14" cy="152" r="2.2" fill="#fff" stroke="#00f" stroke-width="1.2"/><circle cx="408.41" cy="155.9" r="2.2" fill="#fff" stroke="#00f" stroke-width="1.2"/><circle cx="419.68" cy="159.2" r="2.2" fill="#fff" stroke="#00f" stroke-width="1.2"/><circle cx="430.95" cy="163.2" r="2.2" fill="#fff" stroke="#00f" stroke-width="1.2"/><circle cx="442.22" cy="167" r="2.2" fill="#fff" stroke="#00f" stroke-width="1.2"/><circle cx="453.49" cy="171.1" r="2.2" fill="#fff" stroke="#00f" stroke-width="1.2"/><circle cx="464.76" cy="175" r="2.2" fill="#fff" stroke="#00f" stroke-width="1.2"/><circle cx="476.03" cy="179.1" r="2.2" fill="#fff" stroke="#00f" stroke-width="1.2"/><circle cx="487.3" cy="183.5" r="2.2" fill="#fff" stroke="#00f" stroke-width="1.2"/><circle cx="498.57" cy="188.5" r="2.2" fill="#fff" stroke="#00f" stroke-width="1.2"/><circle cx="509.84" cy="193.2" r="2.2" fill="#fff" stroke="#00f" stroke-width="1.2"/><circle cx="521.11" cy="198.1" r="2.2" fill="#fff" stroke="#00f" stroke-width="1.2"/><circle cx="532.38" cy="203" r="2.2" fill="#fff" stroke="#00f" stroke-width="1.2"/>
<path d="M374.6 147.6 385.87 152.5 397.14 157 408.41 161.6 419.68 165.6 430.95 169.5 442.22 174.1 453.49 179.1 464.76 183.6 476.03 188.6 487.3 192.7 498.57 197.5 509.84 202.8 521.11 207.9 532.38 212.8" fill="none" stroke="#f00" stroke-width="1.15"/><circle cx="374.6" cy="147.6" r="2.2" fill="#fff" stroke="#f00" stroke-width="1.2"/><circle cx="385.87" cy="152.5" r="2.2" fill="#fff" stroke="#f00" stroke-width="1.2"/><circle cx="397.14" cy="157" r="2.2" fill="#fff" stroke="#f00" stroke-width="1.2"/><circle cx="408.41" cy="161.6" r="2.2" fill="#fff" stroke="#f00" stroke-width="1.2"/><circle cx="419.68" cy="165.6" r="2.2" fill="#fff" stroke="#f00" stroke-width="1.2"/><circle cx="430.95" cy="169.5" r="2.2" fill="#fff" stroke="#f00" stroke-width="1.2"/><circle cx="442.22" cy="174.1" r="2.2" fill="#fff" stroke="#f00" stroke-width="1.2"/><circle cx="453.49" cy="179.1" r="2.2" fill="#fff" stroke="#f00" stroke-width="1.2"/><circle cx="464.76" cy="183.6" r="2.2" fill="#fff" stroke="#f00" stroke-width="1.2"/><circle cx="476.03" cy="188.6" r="2.2" fill="#fff" stroke="#f00" stroke-width="1.2"/><circle cx="487.3" cy="192.7" r="2.2" fill="#fff" stroke="#f00" stroke-width="1.2"/><circle cx="498.57" cy="197.5" r="2.2" fill="#fff" stroke="#f00" stroke-width="1.2"/><circle cx="509.84" cy="202.8" r="2.2" fill="#fff" stroke="#f00" stroke-width="1.2"/><circle cx="521.11" cy="207.9" r="2.2" fill="#fff" stroke="#f00" stroke-width="1.2"/><circle cx="532.38" cy="212.8" r="2.2" fill="#fff" stroke="#f00" stroke-width="1.2"/>
<path d="M396.9 21.3L537 81.9M396.8 41.8L537 102.9" stroke="#222" stroke-width="0.95" stroke-dasharray="6 1.4 1.3 1.4" fill="none"/>
<path d="M396.8 144.5L537.7 205.5M396.8 157.7L537.7 215" stroke="#222" stroke-width="0.95" stroke-dasharray="6 1.4 1.3 1.4" fill="none"/>
<rect x="383.8" y="109.4" width="58.9" height="20.6" fill="#fff" stroke="#000" stroke-width="1.3"/>
<path d="M388.3 115.2H402.3" stroke="#00f" stroke-width="1.15"/><rect x="386.25" y="113.15" width="4.1" height="4.1" fill="#fff" stroke="#00f" stroke-width="1.2"/><rect x="400.25" y="113.15" width="4.1" height="4.1" fill="#fff" stroke="#00f" stroke-width="1.2"/>
<path d="M388.3 124.5H402.3" stroke="#f00" stroke-width="1.15"/><rect x="386.25" y="122.45" width="4.1" height="4.1" fill="#fff" stroke="#f00" stroke-width="1.2"/><rect x="400.25" y="122.45" width="4.1" height="4.1" fill="#fff" stroke="#f00" stroke-width="1.2"/>
<text x="406.3" y="118.4" font-size="9.8" stroke="#000" stroke-width="0.12">T=15K</text>
<text x="406.3" y="127.7" font-size="9.8" stroke="#000" stroke-width="0.12">T=300K</text>
<path d="M504.6 176.9V188.6M502.2 183.7L504.6 188.9L507 183.7" stroke="#000" stroke-width="1" fill="none"/>
<path d="M504.8 216.5V206.3M502.4 211.4L504.8 206.1L507.2 211.4" stroke="#000" stroke-width="1" fill="none"/>
<text x="466.6" y="206.5" font-size="7.3" fill="#000">Residual</text>
<text x="466.6" y="213.9" font-size="7.3" fill="#000">vertical</text>
<text x="466.6" y="221.3" font-size="7.3" fill="#000">shift</text>
</svg>
</body></html>
